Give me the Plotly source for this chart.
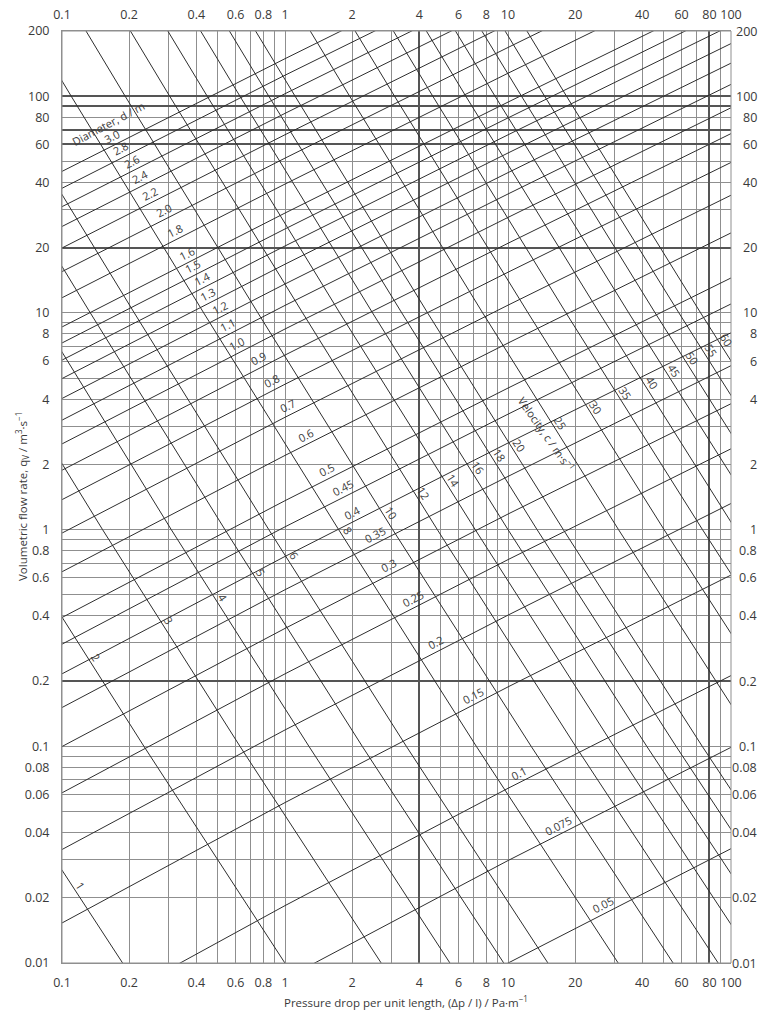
import math
import numpy as np
import plotly.graph_objects as go

# ---------------- data ----------------
# Duct diameters d / m and their labels
DIAMETERS = [3.0, 2.8, 2.6, 2.4, 2.2, 2.0, 1.8, 1.6, 1.5, 1.4, 1.3, 1.2, 1.1, 1.0, 0.9, 0.8, 0.7,
             0.6, 0.5, 0.45, 0.4, 0.35, 0.3, 0.25, 0.2, 0.15, 0.1, 0.075, 0.05]
DIAM_TEXT = ["3.0", "2.8", "2.6", "2.4", "2.2", "2.0", "1.8", "1.6", "1.5", "1.4", "1.3", "1.2", "1.1",
             "1.0", "0.9", "0.8", "0.7", "0.6", "0.5", "0.45", "0.4", "0.35", "0.3", "0.25", "0.2",
             "0.15", "0.1", "0.075", "0.05"]
# Pressure drops (Pa/m) at which each diameter line's flow rate is read
DP_GRID = [0.1, 1, 10, 100]
FLOW_AT_DP_0_1 = [45, 37.6, 30.93, 25.06, 19.94, 15.51, 11.75, 8.616, 7.267, 6.057, 4.979, 4.029, 3.2,
                  2.486, 1.88, 1.375, 0.964, 0.639, 0.393, 0.296, 0.216, 0.151, 0.0998, 0.061, 0.0334,
                  0.0153, 0.00503, 0.00227, 0.000732]
FLOW_AT_DP_1 = [149, 125, 102.7, 83.36, 66.43, 51.79, 39.32, 28.9, 24.41, 20.37, 16.78, 13.6, 10.83,
                8.429, 6.391, 4.688, 3.299, 2.2, 1.36, 1.03, 0.752, 0.528, 0.35, 0.216, 0.119,
                0.055, 0.0184, 0.00846, 0.0028]
FLOW_AT_DP_10 = [481, 402, 332, 269.7, 215.1, 167.9, 127.7, 93.95, 79.42, 66.36, 54.7, 44.4, 35.39,
                 27.59, 20.96, 15.41, 10.86, 7.26, 4.5, 3.41, 2.51, 1.76, 1.18, 0.727, 0.403,
                 0.188, 0.064, 0.0297, 0.00999]
FLOW_AT_DP_100 = [1530, 1280, 1058, 860, 686.3, 535.9, 407.7, 300.2, 253.9, 212.2, 175, 142.1, 113.4,
                  88.46, 67.23, 49.47, 34.93, 23.4, 14.5, 11, 8.1, 5.71, 3.81, 2.36, 1.32,
                  0.617, 0.212, 0.0989, 0.0337]

# Air velocities c / m/s
VELOCITIES = [1, 2, 3, 4, 5, 6, 8, 10, 12, 14, 16, 18, 20, 25, 30, 35, 40, 45, 50, 55, 60]
# Flow rates (m3/s) at which each velocity line's pressure drop is read
Q_GRID = [0.01, 0.1, 1, 10, 100, 1000]
DP_AT_Q_0_01 = [0.187, 0.999, 2.7, 5.49, 9.57, 15.1, 31.2, 55, 87.6, 130, 184, 249, 327, 584, 940,
                1410, 2000, 2730, 3600, 4630, 5820]
DP_AT_Q_0_1 = [0.0434, 0.233, 0.628, 1.28, 2.22, 3.5, 7.21, 12.7, 20.1, 29.8, 41.9, 56.7, 74.3, 132,
               212, 316, 447, 607, 800, 1030, 1290]
DP_AT_Q_1 = [0.0105, 0.0564, 0.152, 0.309, 0.538, 0.846, 1.74, 3.04, 4.82, 7.13, 10, 13.5, 17.7, 31.3,
             50.1, 74.5, 105, 143, 187, 240, 301]
DP_AT_Q_10 = [0.0026, 0.0141, 0.038, 0.0772, 0.134, 0.211, 0.432, 0.756, 1.2, 1.76, 2.47, 3.34, 4.36,
              7.7, 12.3, 18.2, 25.7, 34.8, 45.7, 58.4, 73.1]
DP_AT_Q_100 = [0.000664, 0.00359, 0.00971, 0.0197, 0.0342, 0.0538, 0.11, 0.192, 0.304, 0.448, 0.628,
               0.846, 1.11, 1.95, 3.1, 4.6, 6.47, 8.75, 11.5, 14.6, 18.3]
DP_AT_Q_1000 = [0.000172, 0.000936, 0.00253, 0.00514, 0.00892, 0.014, 0.0287, 0.0501, 0.0791, 0.116,
                0.163, 0.219, 0.286, 0.504, 0.801, 1.19, 1.67, 2.25, 2.95, 3.76, 4.7]

# Where the line labels sit: diameter labels at a pressure drop, velocity labels at a flow rate
DIAM_LABEL_DP = [0.167, 0.182, 0.205, 0.224, 0.248, 0.284, 0.321, 0.363, 0.383, 0.425, 0.447, 0.511,
                 0.555, 0.609, 0.757, 0.874, 1.03, 1.23, 1.54, 1.82, 2.0, 2.53, 2.90, 3.75, 4.71,
                 6.97, 11.1, 16.8, 26.7]
VEL_LABEL_Q = [0.0229, 0.258, 0.382, 0.488, 0.636, 0.760, 0.993, 1.20, 1.47, 1.69, 1.94, 2.20, 2.45,
               3.10, 3.68, 4.26, 4.78, 5.43, 6.18, 6.73, 7.48]

# Axis ticks / grid
X_TICKS = [0.1, 0.2, 0.4, 0.6, 0.8, 1, 2, 4, 6, 8, 10, 20, 40, 60, 80, 100]
X_MINOR = [0.3, 0.5, 0.7, 0.9, 3, 5, 7, 9, 30, 50, 70, 90]
X_BOLD = [4, 80]
Y_TICKS = [0.01, 0.02, 0.04, 0.06, 0.08, 0.1, 0.2, 0.4, 0.6, 0.8, 1, 2, 4, 6, 8, 10, 20, 40, 60, 80, 100, 200]
Y_MINOR = [0.03, 0.05, 0.07, 0.09, 0.3, 0.5, 0.7, 0.9, 3, 5, 7, 9, 30, 50, 70, 90]
Y_BOLD = [0.2, 20, 60, 70, 90, 100]


def fmt(v):
    return "%g" % v


DIAM_Q = [list(r) for r in zip(FLOW_AT_DP_0_1, FLOW_AT_DP_1, FLOW_AT_DP_10, FLOW_AT_DP_100)]
VEL_DP = [list(r) for r in zip(DP_AT_Q_0_01, DP_AT_Q_0_1, DP_AT_Q_1, DP_AT_Q_10, DP_AT_Q_100, DP_AT_Q_1000)]

# ---------------- layout geometry (page px) ----------------
PL, PT, PR, PB = 62, 31, 731, 963
W, H = 768, 1024
XR = [-1, 2]
YR = [-2, math.log10(200)]

FONT = "Open Sans, Noto Sans, sans-serif"
TXT = "#3a3a3a"
LINE = "#2e2e2e"
GRID = "#8f8f8f"
BOLD = "#555555"

fig = go.Figure()
for d, row in zip(DIAMETERS, DIAM_Q):
    fig.add_trace(go.Scatter(x=DP_GRID, y=row, mode="lines", line=dict(color=LINE, width=1),
                             showlegend=False, hoverinfo="skip", name="d = %g m" % d))
for v, row in zip(VELOCITIES, VEL_DP):
    fig.add_trace(go.Scatter(x=row, y=Q_GRID, mode="lines", line=dict(color=LINE, width=1),
                             showlegend=False, hoverinfo="skip", name="c = %g m/s" % v))
# invisible anchors so the overlay axes are drawn
fig.add_trace(go.Scatter(x=[1], y=[1], xaxis="x3", yaxis="y3", mode="markers",
                         marker=dict(opacity=0), showlegend=False, hoverinfo="skip"))
fig.add_trace(go.Scatter(x=[1], y=[1], xaxis="x2", mode="markers", marker=dict(opacity=0),
                         showlegend=False, hoverinfo="skip"))

tickfont = dict(family=FONT, size=12.5, color=TXT)
ax_common = dict(type="log", showline=True, linecolor=GRID, linewidth=1, mirror=False,
                 showgrid=True, gridcolor=GRID, gridwidth=1, ticks="", zeroline=False,
                 tickfont=tickfont, fixedrange=True)
fig.update_layout(
    width=W, height=H,
    margin=dict(l=PL, r=W - PR, t=PT, b=H - PB, autoexpand=False),
    paper_bgcolor="white", plot_bgcolor="white",
    xaxis=dict(range=XR, tickmode="array", tickvals=X_TICKS, ticktext=[fmt(v) for v in X_TICKS],
               minor=dict(tickmode="array", tickvals=X_MINOR, showgrid=True, gridcolor=GRID, gridwidth=1, ticks=""),
               ticklabelstandoff=8, **ax_common),
    xaxis2=dict(range=XR, overlaying="x", side="top", tickmode="array", tickvals=X_TICKS,
                ticktext=[fmt(v) for v in X_TICKS], ticklabelstandoff=6, **{**ax_common, "showgrid": False}),
    yaxis=dict(range=YR, tickmode="array", tickvals=Y_TICKS, ticktext=[fmt(v) for v in Y_TICKS],
               minor=dict(tickmode="array", tickvals=Y_MINOR, showgrid=True, gridcolor=GRID, gridwidth=1, ticks=""),
               ticklabelstandoff=9, **ax_common),
    xaxis3=dict(type="log", range=XR, overlaying="x", tickmode="array", tickvals=X_BOLD, showticklabels=False,
                showgrid=True, gridcolor=BOLD, gridwidth=2, ticks="", zeroline=False, showline=False,
                fixedrange=True),
    yaxis3=dict(type="log", range=YR, overlaying="y", tickmode="array", tickvals=Y_BOLD, showticklabels=False,
                showgrid=True, gridcolor=BOLD, gridwidth=2, ticks="", zeroline=False, showline=False,
                fixedrange=True),
    shapes=[dict(type="rect", xref="paper", yref="paper", x0=0, x1=1, y0=0, y1=1,
                 line=dict(color=GRID, width=1), layer="above")],
)

ann = []
lblfont = dict(family=FONT, size=11, color=TXT)
for txt, row, p in zip(DIAM_TEXT, DIAM_Q, DIAM_LABEL_DP):
    ly = float(np.interp(math.log10(p), np.log10(DP_GRID), np.log10(row)))
    ann.append(dict(x=math.log10(p), y=ly, xref="x", yref="y", text=txt, showarrow=False,
                    xanchor="center", yanchor="middle", textangle=-27, yshift=10, font=lblfont))
for v, row, q in zip(VELOCITIES, VEL_DP, VEL_LABEL_Q):
    lx = float(np.interp(math.log10(q), np.log10(Q_GRID), np.log10(row)))
    ann.append(dict(x=lx, y=math.log10(q), xref="x", yref="y", text=str(v), showarrow=False,
                    xanchor="center", yanchor="middle", textangle=57, xshift=9, font=lblfont))
ann.append(dict(x=math.log10(0.161), y=math.log10(75), xref="x", yref="y", text="Diameter, d / m",
                showarrow=False, xanchor="center", yanchor="middle", textangle=-28, font=lblfont))
ann.append(dict(x=math.log10(14.8), y=math.log10(2.75), xref="x", yref="y",
                text="Velocity, c / m·s<sup>−1</sup>", showarrow=False, xanchor="center", yanchor="middle",
                textangle=55, font=lblfont))
# right-hand flow-rate scale
for v in Y_TICKS:
    ann.append(dict(x=(759 - PL) / (PR - PL), y=math.log10(v), xref="paper", yref="y", text=fmt(v),
                    xanchor="right", yanchor="middle", showarrow=False, font=tickfont))
# axis titles
ann.append(dict(x=(406 - PL) / (PR - PL), y=(PB - 1002) / (PB - PT), xref="paper", yref="paper",
                xanchor="center", yanchor="middle",
                text="Pressure drop per unit length, (Δp / l) / Pa·m<sup>−1</sup>", showarrow=False,
                font=dict(family=FONT, size=11.5, color=TXT)))
ann.append(dict(x=(22 - PL) / (PR - PL), y=0.5, xref="paper", yref="paper", textangle=-90,
                xanchor="center", yanchor="middle",
                text="Volumetric flow rate, q<sub>V</sub> / m<sup>3</sup>·s<sup>−1</sup>", showarrow=False,
                font=dict(family=FONT, size=11.5, color=TXT)))
fig.update_layout(annotations=ann)
fig.write_html("out.html", config={"displayModeBar": False, "staticPlot": True},
               post_script="document.body.style.margin='0px';")
